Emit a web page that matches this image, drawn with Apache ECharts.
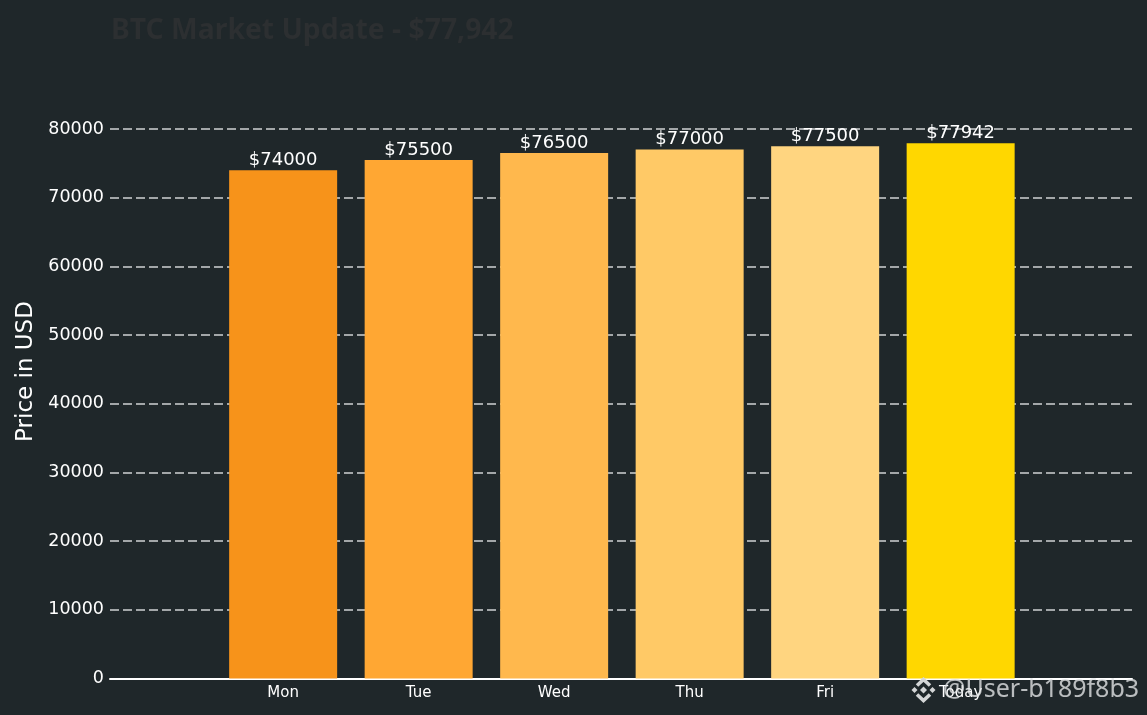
<!DOCTYPE html>
<html><head><meta charset="utf-8">
<style>html,body{margin:0;padding:0;background:#1f272a}#c{width:1147px;height:715px}</style>
<script src="https://cdn.jsdelivr.net/npm/echarts@6/dist/echarts.min.js"></script>
</head><body><div id="c"></div>
<script>
const days = ['Mon','Tue','Wed','Thu','Fri','Today'];
const prices = [74000,75500,76500,77000,77500,77942];
const barColors = ['#F7931A','#FFA733','#FFB84D','#FFC966','#FFD580','#FFD700'];
const titleText = 'BTC Market Update - $77,942';
const yName = 'Price in USD';
const watermark = '@User-b189f8b3';
const F = 'DejaVu Sans';
const chart = echarts.init(document.getElementById('c'), null, {renderer:'canvas'});
const gridTop = 129, gridH = 549.5;
const logoFill = '#d4d6d7';
function diamond(cx, cy, r){return {type:'polygon',shape:{points:[[cx-r,cy],[cx,cy-r],[cx+r,cy],[cx,cy+r]]},style:{fill:logoFill},z:20};}
function chevron(pts){return {type:'polyline',shape:{points:pts},style:{stroke:logoFill,fill:null,lineWidth:3.6},z:20};}
chart.setOption({
  animation:false,
  backgroundColor:'#1f272a',
  title:{text:titleText,left:106,top:12,textStyle:{fontFamily:'Noto Sans',fontWeight:'bold',fontSize:28.3,color:'#2c2f31'}},
  grid:[
    {left:110,width:1022,top:gridTop,height:gridH},
    {left:215.4,width:813,top:gridTop,height:gridH}
  ],
  xAxis:[
    {gridIndex:0,type:'category',data:[''],axisLine:{show:true,lineStyle:{color:'#ffffff',width:2}},axisTick:{show:false},axisLabel:{show:false},splitLine:{show:false}},
    {gridIndex:1,type:'category',data:days,axisLine:{show:false},axisTick:{show:false},
     axisLabel:{color:'#ffffff',fontFamily:F,fontSize:15,margin:7,interval:0}}
  ],
  yAxis:[
    {gridIndex:0,type:'value',min:0,max:80000,interval:10000,
     axisLine:{show:false},axisTick:{show:false},
     axisLabel:{color:'#ffffff',fontFamily:F,fontSize:17.5,margin:6,padding:[3,0,0,0],formatter:v=>String(v)},
     splitLine:{show:true,lineStyle:{color:'#d0d2d3',type:[9,4],width:1.5}}},
    {gridIndex:1,type:'value',min:0,max:80000,interval:10000,show:false,splitLine:{show:false}}
  ],
  series:[
    {type:'bar',xAxisIndex:0,yAxisIndex:0,data:[],silent:true},
    {type:'bar',xAxisIndex:1,yAxisIndex:1,barWidth:108,z:5,
     data:prices.map((v,i)=>({value:v,itemStyle:{color:barColors[i]}})),
     label:{show:true,position:'top',distance:1,color:'#ffffff',fontFamily:F,fontSize:18,formatter:p=>'$'+p.value}}
  ],
  graphic:[
    {type:'text',x:26,y:371.5,rotation:Math.PI/2,z:20,style:{text:yName,fontFamily:F,fontSize:23,fill:'#ffffff',align:'center',verticalAlign:'middle'}},
    {type:'text',left:943,top:677,z:20,style:{text:watermark,fontFamily:'Noto Sans',fontSize:25,fill:'rgba(225,228,229,0.8)'}},
    chevron([[917,685.5],[923.5,679.5],[930,685.5]]),
    chevron([[917,694.5],[923.5,700.5],[930,694.5]]),
    diamond(923.5,690,3.5),diamond(914.5,690,3),diamond(932.5,690,3)
  ]
});
</script></body></html>
